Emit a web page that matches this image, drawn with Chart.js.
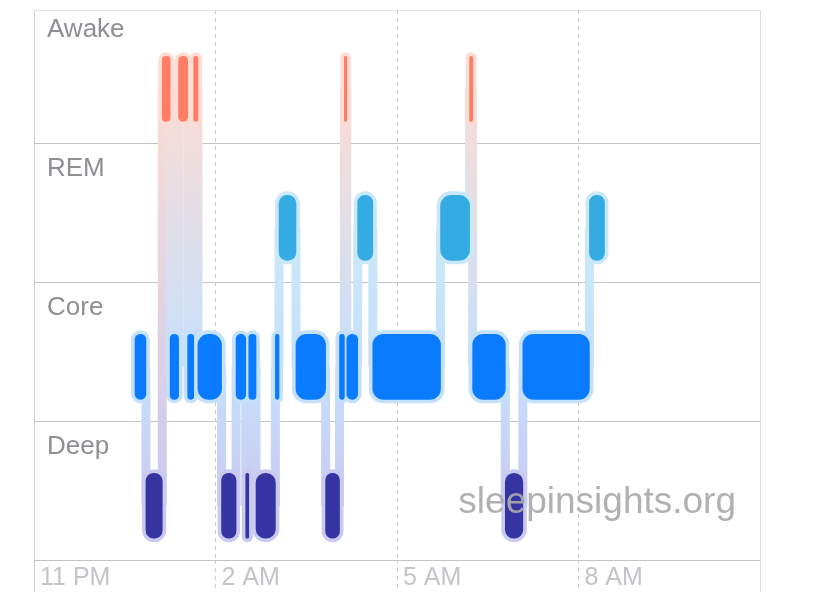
<!DOCTYPE html>
<html>
<head>
<meta charset="utf-8">
<script src="https://cdn.jsdelivr.net/npm/chart.js@4"></script>
<style>
  html, body { margin: 0; padding: 0; background: #fff; overflow: hidden; }
  #wrap { width: 813px; height: 605px; position: relative; }
</style>
</head>
<body>
<div id="wrap"><canvas id="sleepChart"></canvas></div>
<script>
// rows of the chart, top to bottom
const stages = ["Awake", "REM", "Core", "Deep"];

// stage of each segment, in time order
const stageSeq = [
    "Core", "Deep", "Awake", "Core", "Awake", "Core", "Awake", "Core", "Deep", "Core",
    "Deep", "Core", "Deep", "Core", "REM", "Core", "Deep", "Core", "Awake", "Core",
    "REM", "Core", "REM", "Awake", "Core", "Deep", "Core", "REM"
];

// hours after 11 PM where each segment starts (last value = end of sleep)
const changeTimes = [
    1.67, 1.85, 2.12, 2.25, 2.39, 2.54, 2.64, 2.71, 3.10, 3.34,
    3.50, 3.55, 3.67, 3.99, 4.05, 4.33, 4.82, 5.05, 5.13, 5.17,
    5.35, 5.60, 6.72, 7.20, 7.25, 7.79, 8.08, 9.18, 9.43
];

const xTickLabels = ["11 PM", "2 AM", "5 AM", "8 AM", ""];
const watermark = "sleepinsights.org";

const fill = { Awake: "#ff7d64", REM: "#35abe4", Core: "#0a7bff", Deep: "#3634a3" };
const halo = { Awake: "#fcdcd4", REM: "#cbe8f8", Core: "#c5e0fc", Deep: "#cacaf0" };
const barPos = 0.61; // where the bar sits inside its row

function stageY(st) { return stages.indexOf(st) + barPos; }

const datasets = stages.map(function (st) {
    const pts = [];
    stageSeq.forEach(function (s, i) {
        if (s === st) pts.push({ x: [changeTimes[i], changeTimes[i + 1]], y: stageY(st) });
    });
    return {
        label: st,
        data: pts,
        backgroundColor: fill[st],
        borderWidth: 0,
        borderSkipped: false,
        borderRadius: 11,
        barThickness: 65,
        grouped: false
    };
});

// light halo round each bar and the links between stages
const haloPlugin = {
    id: "halo",
    beforeDatasetsDraw(chart) {
        const ctx = chart.ctx;
        const xs = chart.scales.x, ys = chart.scales.y;
        ctx.save();
        for (let i = 1; i < stageSeq.length; i++) {
            const a = stageSeq[i - 1], b = stageSeq[i];
            const px = xs.getPixelForValue(changeTimes[i]);
            const ya = ys.getPixelForValue(stageY(a)), yb = ys.getPixelForValue(stageY(b));
            const top = Math.min(ya, yb), bot = Math.max(ya, yb);
            const g = ctx.createLinearGradient(0, top, 0, bot);
            g.addColorStop(0, halo[ya < yb ? a : b]);
            g.addColorStop(1, halo[ya < yb ? b : a]);
            ctx.fillStyle = g;
            ctx.fillRect(px - 4.5, top, 9, bot - top);
        }
        chart.data.datasets.forEach(function (ds, di) {
            chart.getDatasetMeta(di).data.forEach(function (el) {
                const p = el.getProps(["x", "y", "base", "height"], true);
                const l = Math.min(p.x, p.base) - 4, r = Math.max(p.x, p.base) + 4;
                ctx.fillStyle = halo[ds.label];
                ctx.beginPath();
                ctx.roundRect(l, p.y - p.height / 2 - 4, r - l, p.height + 8, 14);
                ctx.fill();
            });
        });
        ctx.restore();
    },
    afterDraw(chart) {
        const ctx = chart.ctx;
        const a = chart.chartArea;
        ctx.save();
        ctx.font = '37px "Liberation Sans", Arial, sans-serif';
        ctx.fillStyle = "rgba(170,170,170,0.92)";
        ctx.textAlign = "right";
        ctx.textBaseline = "alphabetic";
        ctx.fillText(watermark, a.right - 24, a.bottom - 47);
        ctx.restore();
    }
};

const dashFor = function (c) {
    return (c.tick && c.tick.value % 12 !== 0) ? [4, 4] : [];
};

function noPad(s) {
    s.paddingTop = 0; s.paddingBottom = 0; s.paddingLeft = 0; s.paddingRight = 0;
}

new Chart(document.getElementById("sleepChart"), {
    type: "bar",
    data: { datasets: datasets },
    plugins: [haloPlugin],
    options: {
        indexAxis: "y",
        responsive: true,
        maintainAspectRatio: false,
        animation: false,
        layout: { padding: { left: 34, right: 53, top: 10, bottom: 0 } },
        plugins: { legend: { display: false }, tooltip: { enabled: false } },
        scales: {
            x: {
                type: "linear",
                position: "bottom",
                min: 0,
                max: 12,
                afterFit: function (s) { s.height = 45; noPad(s); },
                border: { display: false, dash: dashFor },
                grid: {
                    color: function (c) {
                        if (c.tick && c.tick.value === 12) return "#dedede";
                        if (c.tick && c.tick.value === 0) return "#cfcfcf";
                        return "#c9c9c9";
                    },
                    tickColor: function (c) {
                        if (c.tick && c.tick.value === 12) return "#dedede";
                        return "#cdcdcd";
                    },
                    tickLength: 32,
                    tickBorderDash: dashFor
                },
                ticks: {
                    stepSize: 3,
                    align: "start",
                    labelOffset: 6,
                    padding: -29,
                    maxRotation: 0,
                    autoSkip: false,
                    color: "#c4c4c8",
                    font: { family: '"Liberation Sans", Arial, sans-serif', size: 25 },
                    callback: function (v) { return xTickLabels[Math.round(v / 3)]; }
                }
            },
            x2: {
                type: "linear",
                position: "top",
                min: 0,
                max: 12,
                afterFit: function (s) { s.height = 0; noPad(s); },
                grid: { display: false },
                ticks: { display: false },
                border: { display: true, color: "#e0e0e0" }
            },
            y: {
                type: "linear",
                reverse: true,
                min: 0.043,
                max: 4,
                offset: false,
                afterFit: function (s) { s.width = 0; noPad(s); },
                afterBuildTicks: function (s) {
                    s.ticks = stages.map(function (st, i) { return { value: i }; }).concat([{ value: stages.length }]);
                },
                border: { display: false },
                grid: {
                    offset: false,
                    drawTicks: false,
                    color: function (c) {
                        if (c.tick && c.tick.value === 0) return "rgba(0,0,0,0)";
                        return "#c3c3c3";
                    }
                },
                ticks: {
                    mirror: true,
                    padding: 13,
                    labelOffset: 26,
                    color: "#8e8e93",
                    font: { family: '"Liberation Sans", Arial, sans-serif', size: 26 },
                    callback: function (v) { return stages[Math.round(v)] || ""; }
                }
            }
        }
    }
});
</script>
</body>
</html>
